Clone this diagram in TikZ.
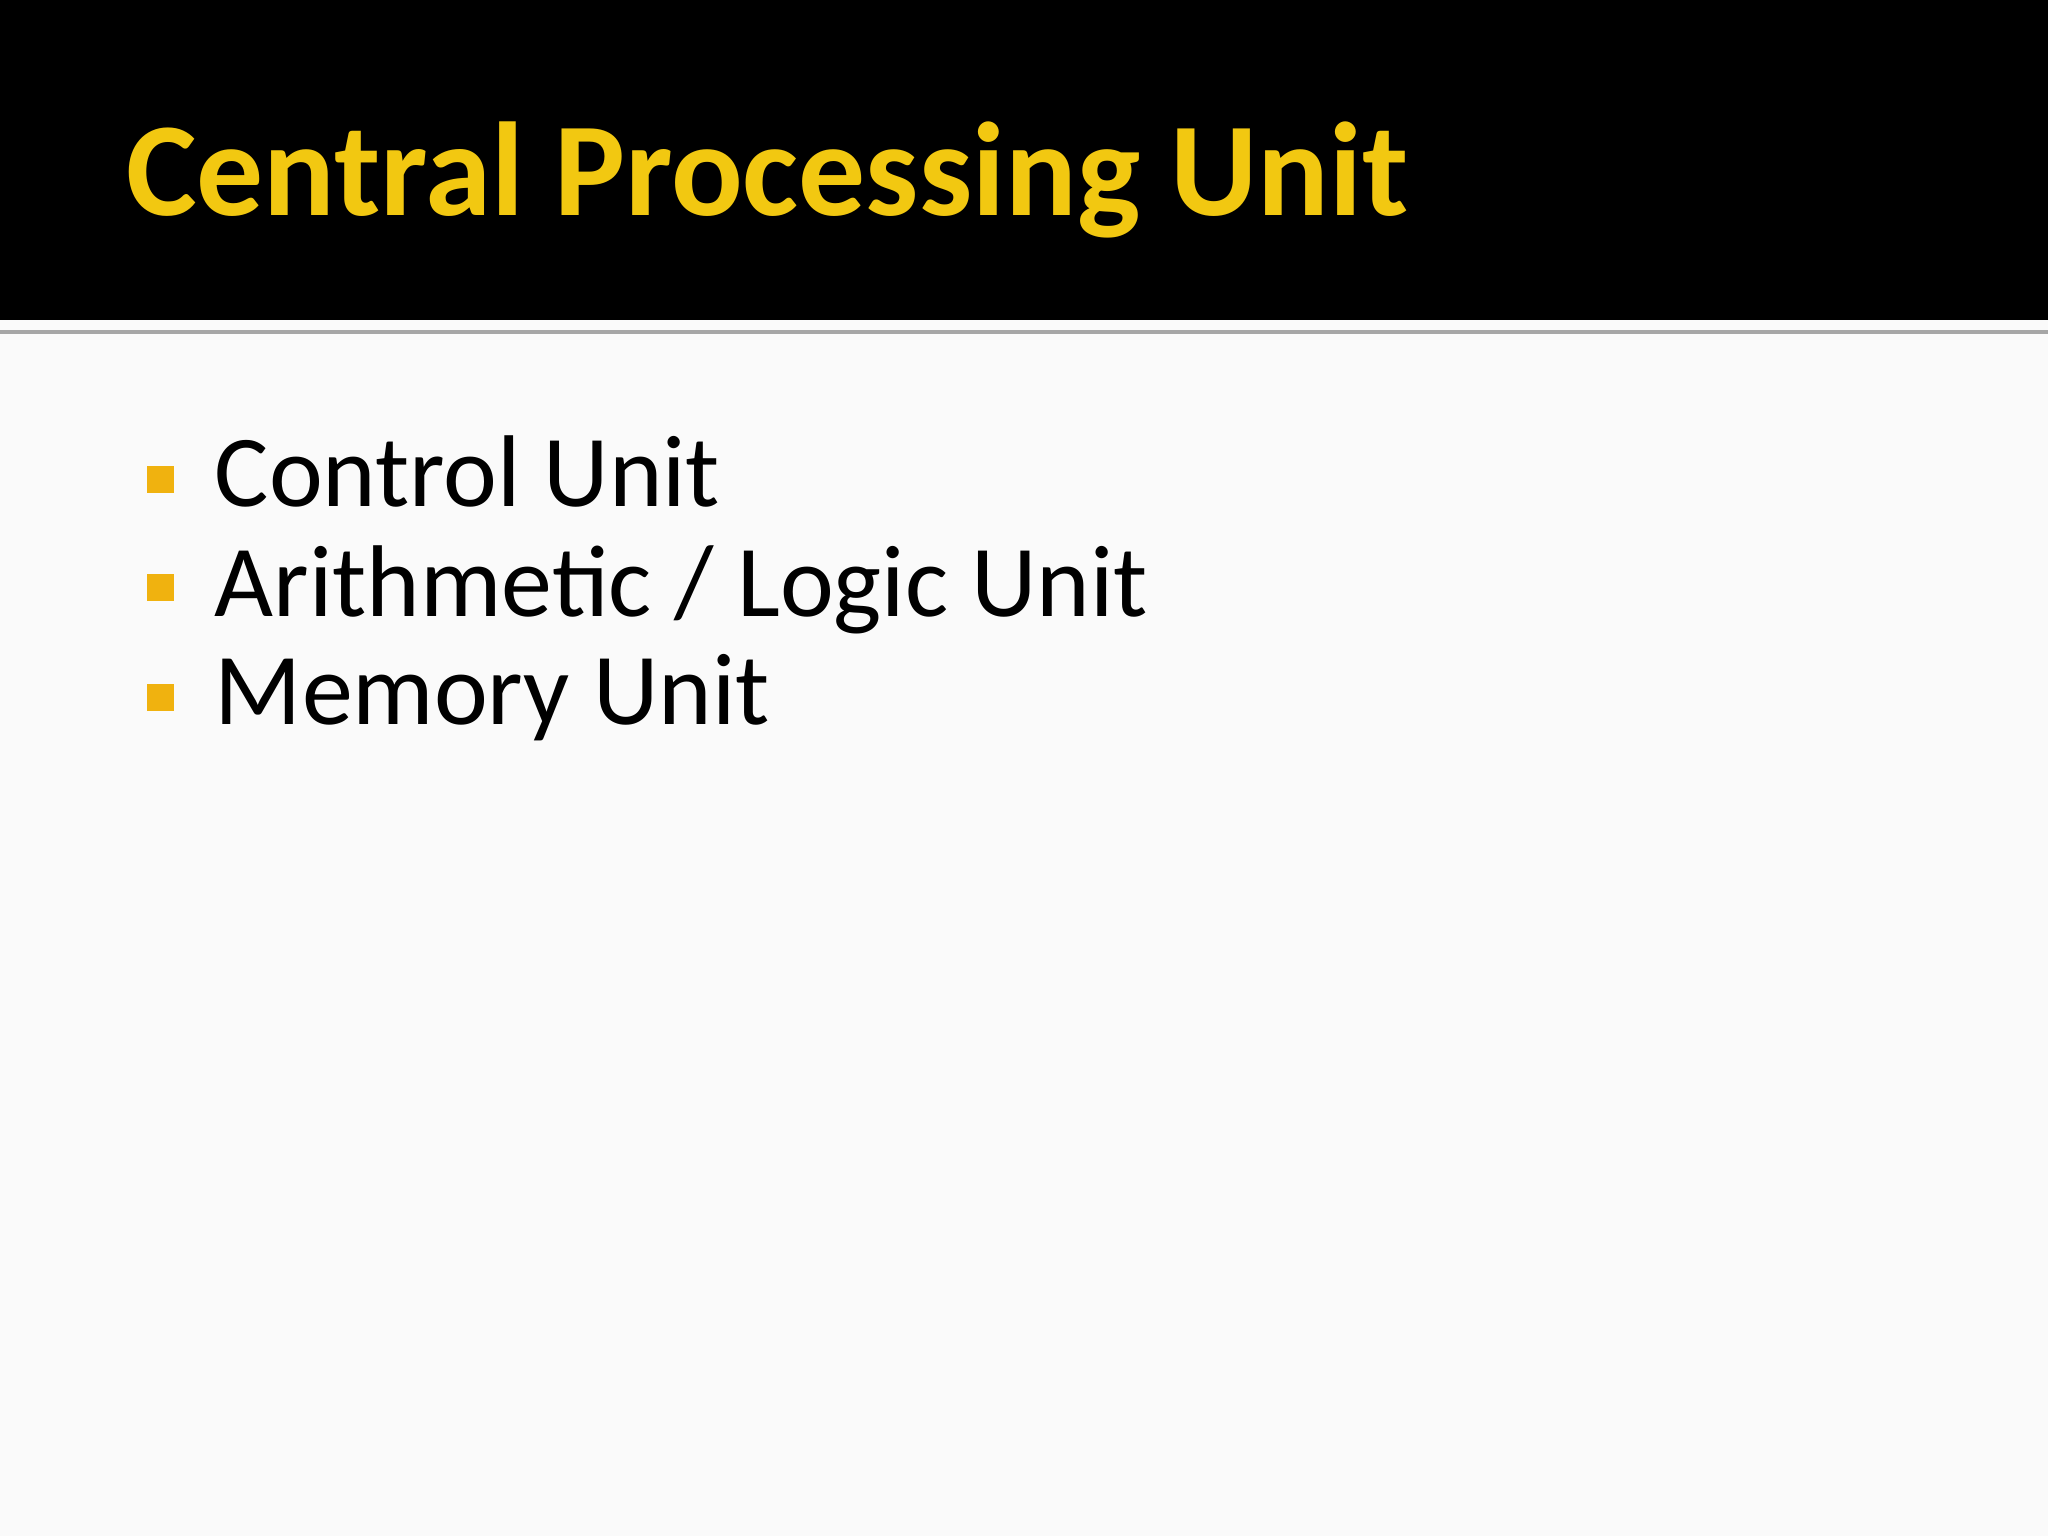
\documentclass[tikz,border=0pt]{standalone}
\usepackage{fontspec}
\setmainfont{Carlito}
\definecolor{titley}{HTML}{F2C811}
\definecolor{bul}{HTML}{F0B20F}
\begin{document}
\begin{tikzpicture}[x=0.013061cm,y=-0.013061cm,
  item/.style={anchor=base west,inner sep=0,font=\fontsize{29}{34}\selectfont},
  bsq/.style={fill=bul,minimum size=0.27cm,inner sep=0}]
\useasboundingbox (0,0) rectangle (1568,1176);
\fill[white!98!black] (0,0) rectangle (1568,1176);
\fill[black] (0,0) rectangle (1568,245);
\draw[gray!70,line width=1.2pt] (0,254) -- (1568,254);
\node[anchor=base west,inner sep=0,text=titley,font=\fontsize{38}{44}\selectfont\bfseries] (title) at (96,165) {Central Processing Unit};
\node[bsq] (b1) at (123,367) {};
\node[item] (t1) at (164,388) {Control Unit};
\node[bsq] (b2) at (123,450) {};
\node[item] (t2) at (164,472) {Arithmetic / Logic Unit};
\node[bsq] (b3) at (123,534) {};
\node[item] (t3) at (164,555) {Memory Unit};
\end{tikzpicture}
\end{document}
